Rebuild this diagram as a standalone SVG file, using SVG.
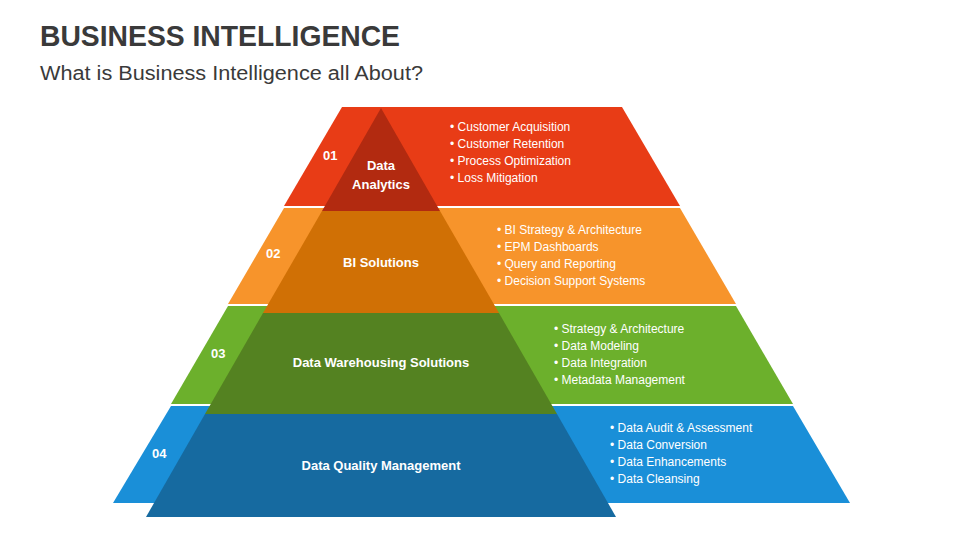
<svg xmlns="http://www.w3.org/2000/svg" width="960" height="540" viewBox="0 0 960 540">
<style>
.t{font-family:"Liberation Sans",Arial,sans-serif;fill:#fff}
.b{font-size:12px}
.n{font-size:13px;font-weight:bold}
.l{font-size:13px;font-weight:bold;text-anchor:middle}
</style>
<rect width="960" height="540" fill="#fff"/>
<text x="40" y="46" font-family="Liberation Sans,Arial,sans-serif" font-weight="bold" font-size="30" fill="#3a3a3a" textLength="360" lengthAdjust="spacingAndGlyphs">BUSINESS INTELLIGENCE</text>
<text x="40" y="80" font-family="Liberation Sans,Arial,sans-serif" font-size="20" fill="#3a3a3a" textLength="383" lengthAdjust="spacingAndGlyphs">What is Business Intelligence all About?</text>
<g id="band1"><polygon points="342,107 622,107 680,206 284,206" fill="#E83C16"/></g>
<g id="band2"><polygon points="284,208 680,208 736,304 228,304" fill="#F7942B"/></g>
<g id="band3"><polygon points="228,306 736,306 793,404 171,404" fill="#6CB02C"/></g>
<g id="band4"><polygon points="171,406 793,406 850,503 113,503" fill="#1A8FD8"/></g>
<g id="inner4"><polygon points="205,414 557,414 616,517 146,517" fill="#166AA0"/></g>
<g id="inner3"><polygon points="263,313 499,313 557,414 205,414" fill="#548221"/></g>
<g id="inner2"><polygon points="322,211 440,211 499,313 263,313" fill="#D07005"/></g>
<g id="inner1"><polygon points="381,108 440,211 322,211" fill="#B22A10"/></g>
<g id="labels">
<text class="t n" x="323" y="160">01</text>
<text class="t n" x="266" y="258">02</text>
<text class="t n" x="211" y="358">03</text>
<text class="t n" x="152" y="458">04</text>
<text class="t l" x="381" y="170">Data</text>
<text class="t l" x="381" y="189">Analytics</text>
<text class="t l" x="381" y="267">BI Solutions</text>
<text class="t l" x="381" y="367">Data Warehousing Solutions</text>
<text class="t l" x="381" y="470">Data Quality Management</text>
</g>
<g id="bullets1" class="t b">
<text x="450" y="131">•  Customer Acquisition</text>
<text x="450" y="148">•  Customer Retention</text>
<text x="450" y="165">•  Process Optimization</text>
<text x="450" y="182">•  Loss Mitigation</text>
</g>
<g id="bullets2" class="t b">
<text x="497" y="234">•  BI Strategy &amp; Architecture</text>
<text x="497" y="251">•  EPM Dashboards</text>
<text x="497" y="268">•  Query and Reporting</text>
<text x="497" y="285">•  Decision Support Systems</text>
</g>
<g id="bullets3" class="t b">
<text x="554" y="333">•  Strategy &amp; Architecture</text>
<text x="554" y="350">•  Data Modeling</text>
<text x="554" y="367">•  Data Integration</text>
<text x="554" y="384">•  Metadata Management</text>
</g>
<g id="bullets4" class="t b">
<text x="610" y="432">•  Data Audit &amp; Assessment</text>
<text x="610" y="449">•  Data Conversion</text>
<text x="610" y="466">•  Data Enhancements</text>
<text x="610" y="483">•  Data Cleansing</text>
</g>
</svg>
